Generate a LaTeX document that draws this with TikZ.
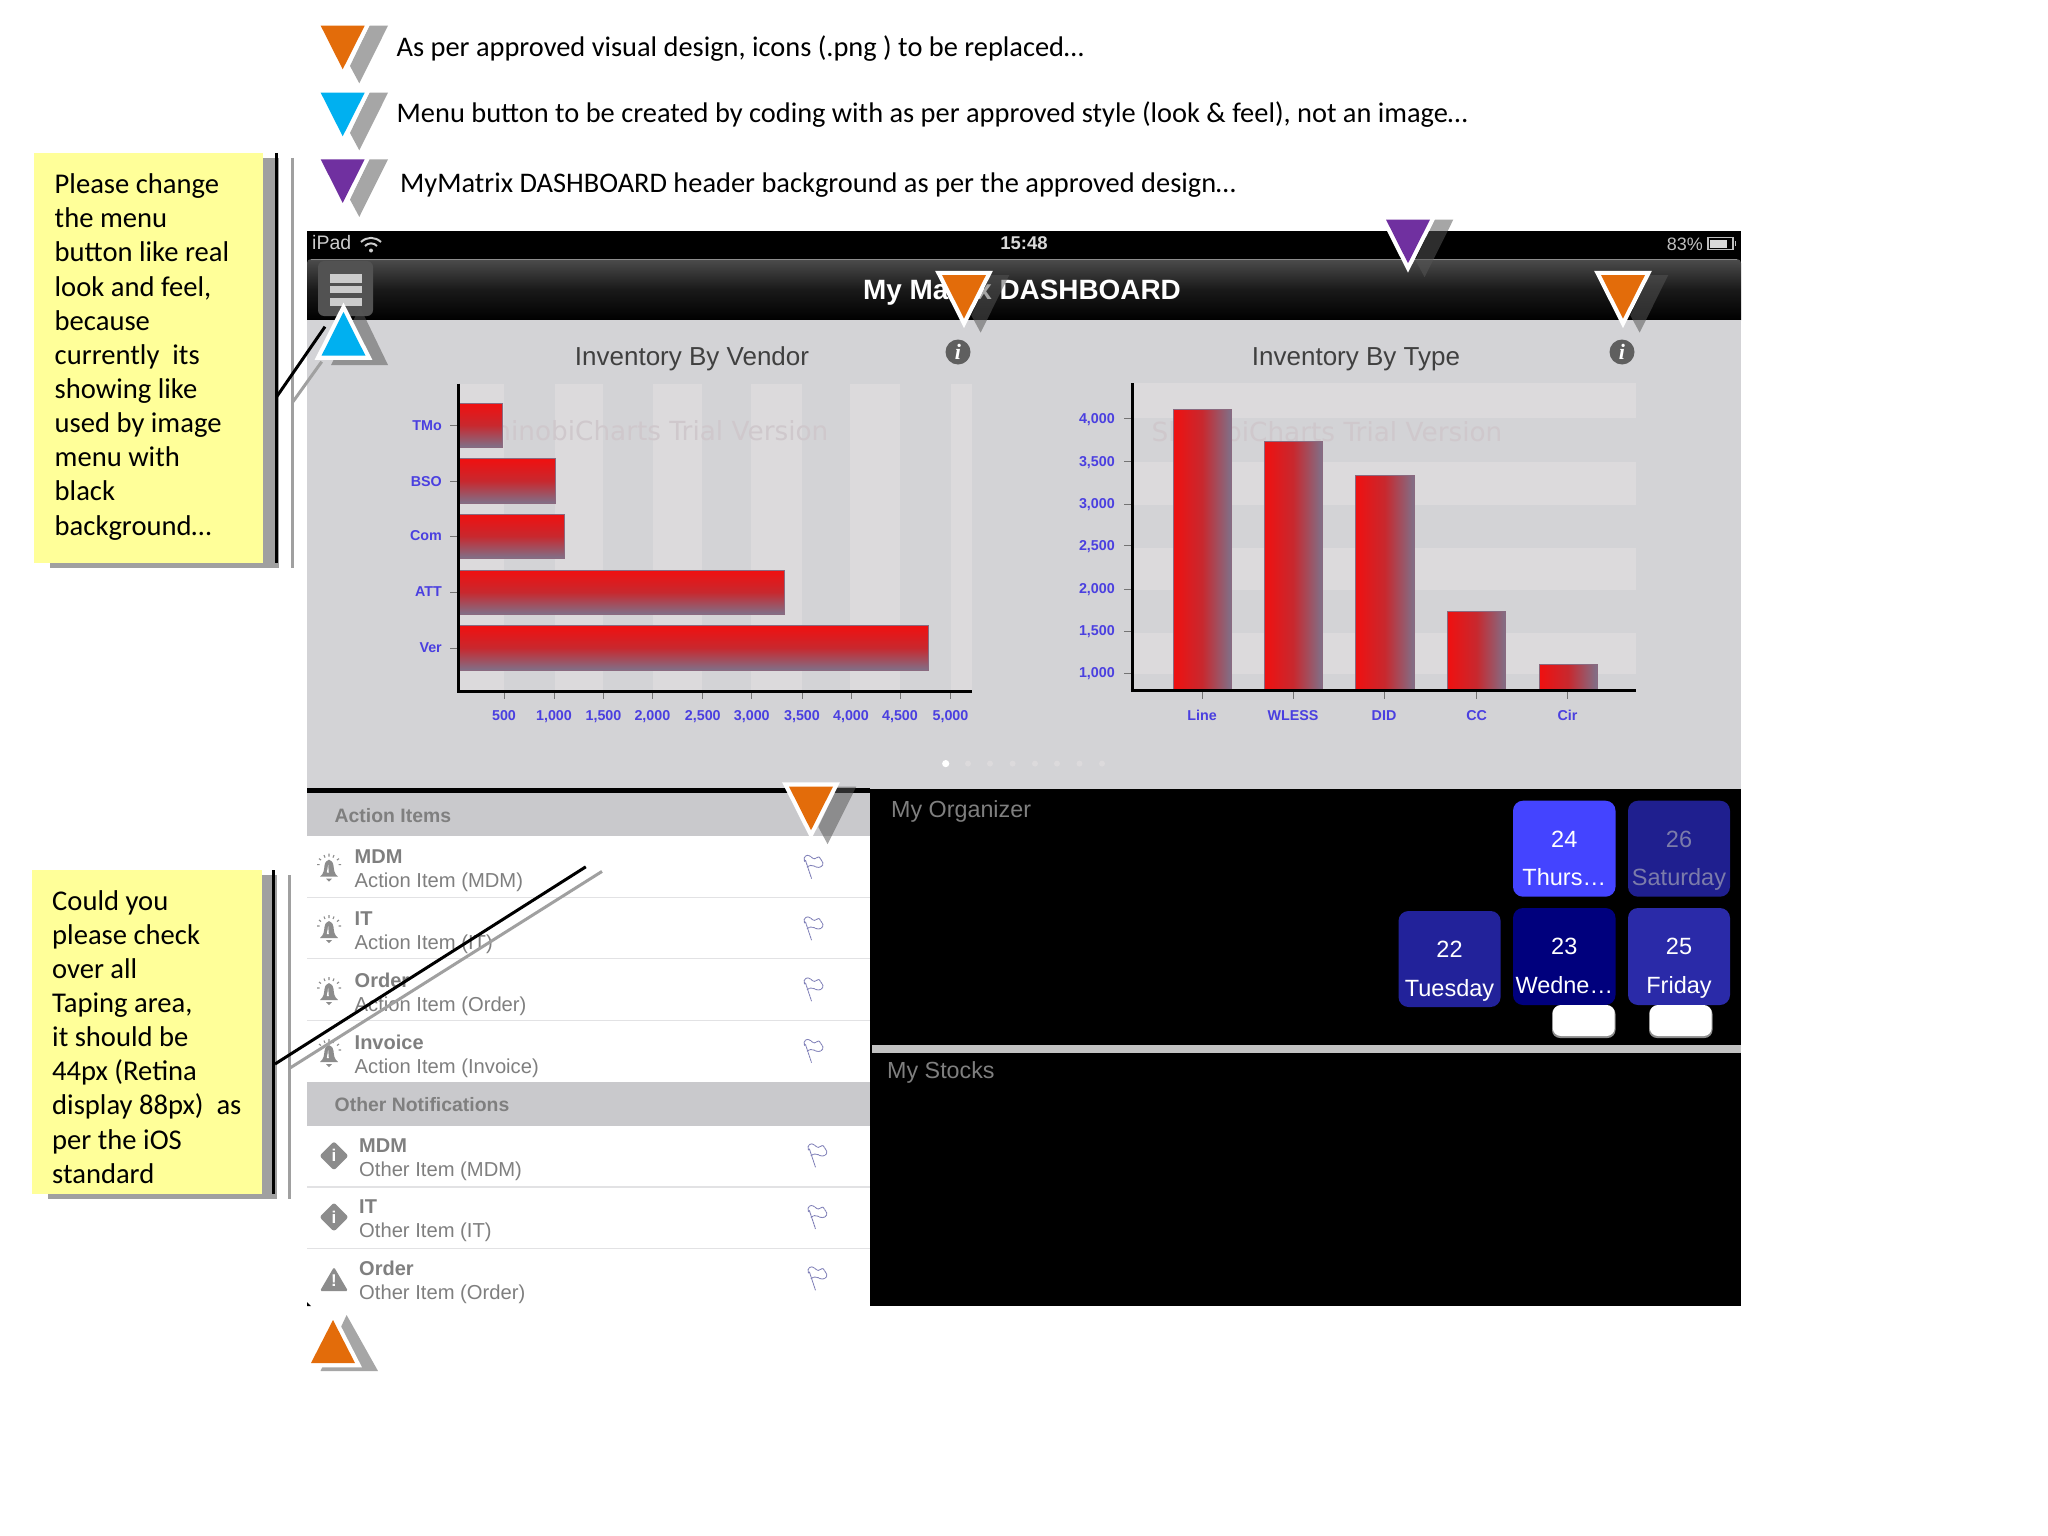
\documentclass[tikz,border=0pt]{standalone}
\usepackage{fontspec}
\setmainfont{Liberation Sans}
\newfontfamily\carl{Carlito}
\newfontfamily\dejav{DejaVu Sans}
\newfontfamily\liberif{Liberation Serif}
\newcommand{\fsz}[1]{\fontsize{#1}{#1}\selectfont}
\definecolor{cbase}{HTML}{D3D3D6}
\definecolor{cband}{HTML}{DCDADC}
\definecolor{cblue}{HTML}{4A3FE0}
\definecolor{cred}{HTML}{F01010}
\definecolor{cmid}{HTML}{C8282E}
\definecolor{cgrayb}{HTML}{807088}
\definecolor{cbarline}{HTML}{8A6A80}
\definecolor{corange}{HTML}{E36C0A}
\definecolor{csky}{HTML}{00B0F0}
\definecolor{cpurple}{HTML}{7030A0}
\definecolor{cnote}{HTML}{FFFF99}
\definecolor{cnoteshadow}{HTML}{A0A0A0}
\definecolor{cshadow}{HTML}{565656}
\definecolor{chead}{HTML}{C9C9CC}
\definecolor{ctext}{HTML}{7F7F7F}
\definecolor{csep}{HTML}{E2E2E4}
\definecolor{cicon}{HTML}{8C8C8C}
\definecolor{cflag}{HTML}{8080B8}
\definecolor{cwater}{HTML}{CFC8CC}
\definecolor{ct}{HTML}{404040}
\definecolor{cinfo}{HTML}{5F5F5F}
\tikzset{
  legendtext/.style={anchor=mid west,inner sep=0,yshift=-7pt,font=\carl\fsz{28.4},text=black},
  notetext/.style={anchor=north west,inner sep=0,align=left,font=\carl\fontsize{28.6}{34.15}\selectfont,text=black},
  notebox/.style={anchor=north west,fill=cnote,inner sep=0,minimum width=#1},
  blackline/.style={line width=3pt,black},
  grayline/.style={line width=3pt,cnoteshadow},
  charttitle/.style={inner sep=0,anchor=mid,yshift=-6.5pt,font=\fsz{26},text=ct},
  axislab/.style={inner sep=0,yshift=-2pt,font=\bfseries\fsz{14.3},text=cblue},
  axisline/.style={line width=3pt,black},
  tick/.style={line width=.9pt,black!55},
  watermark/.style={inner sep=0,anchor=mid,yshift=-6.5pt,font=\dejav\fsz{26.3},text=cwater},
  rowname/.style={inner sep=0,anchor=mid west,yshift=-5pt,font=\bfseries\fsz{20},text=ctext},
  rowsub/.style={inner sep=0,anchor=mid west,yshift=-5pt,font=\fsz{20.2},text=ctext},
  panelhead/.style={inner sep=0,anchor=mid west,yshift=-5pt,font=\fsz{23.3},text=ctext},
  tilenum/.style={inner sep=0,anchor=mid,yshift=-6pt,font=\fsz{23.5}},
  statustext/.style={inner sep=0,yshift=-3pt},
  shadowfill/.style={fill=cshadow,fill opacity=.525},
  trimark/.style={draw=white,line width=8.5pt,line join=miter},
}
\newcommand{\tridown}[3]{%
  \begin{scope}[shift={(#1,#2)}]
    \fill[shadowfill] (26.6,0) -- (45.3,0) -- (16.6,57.6) -- (7.3,40.3) -- cycle;
    \draw[trimark] (-22,0) -- (22,0) -- (0,43.6) -- cycle;
    \fill[#3] (-22,0) -- (22,0) -- (0,43.6) -- cycle;
  \end{scope}}
\newcommand{\infoicon}[3]{%
  \fill[cinfo] (#2,#3) circle[radius=12.5];
  \node[inner sep=0,text=white,font=\liberif\bfseries\itshape\fsz{22}] (#1) at (#2,#3) {i};}
\newcommand{\bellicon}[2]{%
  \begin{scope}[shift={(#1,#2)}]
    \fill[cicon] (-9,9) .. controls (-5,6) and (-5,2) .. (-4.5,-2) .. controls (-4,-6) and (-2,-7) .. (0,-8) .. controls (2,-7) and (4,-6) .. (4.5,-2) .. controls (5,2) and (5,6) .. (9,9) -- cycle;
    \fill[white] (-2.2,5) -- (-0.8,-3) -- (-0.2,5) -- cycle;
    \fill[cicon] (-3,11) -- (3,11) -- (0,14) -- cycle;
    \draw[cicon,line width=1.1pt] (0,-14) -- (0,-11) (-5,-12.5) -- (-4,-10) (5,-12.5) -- (4,-10) (-10,-9) -- (-8,-7.5) (10,-9) -- (8,-7.5) (-12,-3) -- (-9.5,-3) (12,-3) -- (9.5,-3);
  \end{scope}}
\newcommand{\flagicon}[2]{%
  \begin{scope}[shift={(#1,#2)}]
    \draw[cflag,line width=.9pt,dash pattern=on 2.2pt off .8pt,line cap=round] (-8,-6) -- (-2,12);
    \draw[cflag,line width=.9pt,dash pattern=on 2.2pt off .8pt,line cap=round] (-9,-5) .. controls (-11,-10) and (-6,-13) .. (-3,-10) .. controls (0,-7) and (2,-7) .. (4,-9) .. controls (6,-11) and (6,-8) .. (8,-6) .. controls (11,-3) and (9,1) .. (5,1) .. controls (1,1) and (0,-2) .. (-3,-1) .. controls (-5,0) and (-6,0) .. (-7,1);
  \end{scope}}
\begin{document}
\begin{tikzpicture}[x=1pt,y=-1pt]
\useasboundingbox (0,0) rectangle (2048,1536);
\fill[white] (0,0) rectangle (2048,1536);

% screen base
\fill[black] (307,231) rectangle (1741,320);
\shade[top color=black!70,bottom color=black,middle color=black!90] (307,320) -- (307,263) [rounded corners=4pt] -- (307,259) -- (1741,259) [sharp corners] -- (1741,320) -- cycle;
\draw[black!45,line width=1pt] (311,259.5) -- (1737,259.5);
\fill[cbase] (307,320) rectangle (1741,789);

% status bar
\node[statustext,anchor=mid west,font=\fsz{19.5},text=black!20] (ipad) at (312,244) {iPad};
\begin{scope}[shift={(371,246)}]
  \draw[black!20,line width=2pt] (-10,-4) .. controls (-4,-9.5) and (4,-9.5) .. (10,-4);
  \draw[black!20,line width=2pt] (-6,0) .. controls (-3,-3.5) and (3,-3.5) .. (6,0);
  \fill[black!20] (0,4.5) circle[radius=2];
\end{scope}
\node[statustext,anchor=mid,font=\bfseries\fsz{18.5},text=black!15] (clock) at (1024,244) {15:48};
\node[statustext,anchor=mid east,font=\fsz{18},text=black!25] (batt) at (1703,245) {83\%};
\draw[black!25,line width=1.3pt] (1708,237.5) rectangle (1733,249.5);
\fill[black!15] (1710,239.5) rectangle (1727,247.5);
\fill[black!25] (1734.5,241) rectangle (1736,246);

% nav bar
\fill[black!68,rounded corners=6pt] (318,261) rectangle (373,316);
\foreach \a/\b in {273.5/282.5,286/293,298/306}{\fill[black!20] (330,\a) rectangle (362,\b);}
\node[inner sep=0,anchor=mid,yshift=-7pt,font=\bfseries\fsz{27.9},text=white] (navtitle) at (1022,290) {My Matrix DASHBOARD};

% chart 1
\foreach \a/\b in {459/503.6,554.5/603,653/702,751/802,850/900,950.5/972}{\fill[cband] (\a,384) rectangle (\b,690);}
\node[charttitle] (title1) at (692,356) {Inventory By Vendor};
\infoicon{info1}{958}{352}
\node[watermark] (wm1) at (653,431) {ShinobiCharts Trial Version};
\foreach \a/\b/\r in {403/447/502,458.6/503/555.5,514/558/564.7,570/614/784,625.7/670/928.7}{
  \shade[top color=cred,bottom color=cgrayb,middle color=cmid,draw=cbarline,line width=.8pt] (459,\a) rectangle (\r,\b);}
\foreach \yy/\l in {425.7/TMo,481.4/BSO,536/Com,592/ATT,648/Ver}{
  \draw[tick] (450,\yy) -- (458,\yy);
  \node[axislab,anchor=mid east] (vl\l) at (442,\yy) {\l};}
\foreach \xx/\l [count=\i] in {504/500,554/{1,000},603.5/{1,500},652.4/{2,000},702.8/{2,500},751.8/{3,000},802/{3,500},851/{4,000},900/{4,500},950.5/{5,000}}{
  \draw[tick] (\xx,691) -- (\xx,699);
  \node[axislab,anchor=mid] (vx\i) at (\xx,716) {\l};}
\draw[axisline] (458.5,383.5) -- (458.5,692.9) (457,691.4) -- (972,691.4);

% chart 2
\foreach \a/\b in {383/418,462/505,547.5/590,632.5/673.6}{\fill[cband] (1133,\a) rectangle (1635.5,\b);}
\node[charttitle] (title2) at (1356,356) {Inventory By Type};
\infoicon{info2}{1622}{352}
\node[watermark] (wm2) at (1327,432) {ShinobiCharts Trial Version};
\foreach \a/\b/\t in {1173/1231/409,1264/1322/441.6,1355.4/1414/475,1447/1505.6/611.5,1539/1597/664.5}{
  \shade[left color=cred,right color=cgrayb,middle color=cmid,draw=cbarline,line width=.8pt] (\a,\t) rectangle (\b,690);}
\foreach \yy/\l [count=\i] in {418.4/{4,000},461.6/{3,500},504/{3,000},545.6/{2,500},589/{2,000},631/{1,500},673/{1,000}}{
  \draw[tick] (1124,\yy) -- (1132,\yy);
  \node[axislab,anchor=mid east] (ty\i) at (1115,\yy) {\l};}
\foreach \xx/\l in {1202/Line,1293/WLESS,1384/DID,1476.6/CC,1567.5/Cir}{
  \draw[tick] (\xx,692) -- (\xx,699);
  \node[axislab,anchor=mid] (tx\l) at (\xx,716) {\l};}
\draw[axisline] (1132,383) -- (1132,692.2) (1130.5,690.7) -- (1635.5,690.7);

% pager dots
\fill[white] (945.7,763.6) circle[radius=3.6];
\foreach \xx in {968,990,1012.6,1035,1057,1079.5,1102}{\fill[cband] (\xx,763.6) circle[radius=3];}

% dark panels
\fill[black] (870,789) rectangle (1741,1306);
\fill[black] (307,788.4) rectangle (870,793);
\fill[black!24] (871.5,1045) rectangle (1741,1053);
\node[panelhead] (organizer) at (891,810) {My Organizer};
\node[panelhead] (stocks) at (887,1071) {My Stocks};

% tiles
\foreach \n/\xa/\ya/\xb/\yb/\fc/\tc/\num/\ny/\lab/\ly in {
  a/1513/800.7/1615.5/896.7/4444FF/FFFFFF/24/839/Thurs…/877,
  b/1628/800.7/1730/896.7/1F1F8F/7C7CAA/26/839/Saturday/877,
  c/1398.5/911/1500.6/1007/22229A/FFFFFF/22/949/Tuesday/988,
  d/1513/908/1615.5/1005/00007D/FFFFFF/23/946/Wedne…/985,
  e/1628/908/1730/1005/2A2AA8/FFFFFF/25/946/Friday/985}{
  \definecolor{tf}{HTML}{\fc}\definecolor{tt}{HTML}{\tc}
  \fill[tf,rounded corners=10pt] (\xa,\ya) rectangle (\xb,\yb);
  \node[tilenum,text=tt] (num\n) at ({(\xa+\xb)/2},\ny) {\num};
  \node[tilenum,text=tt] (lab\n) at ({(\xa+\xb)/2},\ly) {\lab};}
\foreach \a/\b in {1552/1615.5,1649/1712.5}{
  \fill[black!45,rounded corners=8pt] (\a,1006) rectangle (\b,1038);
  \fill[white,rounded corners=8pt] (\a+.8,1005) rectangle (\b-.8,1036);}

% list
\fill[white] (307,793) rectangle (870,1306);
\fill[chead] (307,793) rectangle (870,836);
\fill[chead] (307,1082) rectangle (870,1126);
\foreach \yy in {897.4,958.7,1020.7,1187,1248.4}{\draw[csep,line width=1.5pt] (307,\yy) -- (870,\yy);}
\fill[black] (307,1302) -- (311,1306) -- (307,1306) -- cycle;
\node[rowname,font=\bfseries\fsz{19.4}] (sec1) at (334.5,815) {Action Items};
\node[rowname,font=\bfseries\fsz{19.4}] (sec2) at (334.5,1104) {Other Notifications};
\foreach \i/\xx/\ya/\na/\yb/\nb in {
  1/354.5/856/MDM/880/Action Item (MDM),
  2/354.5/917.7/IT/942/Action Item (IT),
  3/354.5/980/Order/1003.5/Action Item (Order),
  4/354.5/1041.7/Invoice/1065.4/Action Item (Invoice),
  5/359/1144.7/MDM/1169/Other Item (MDM),
  6/359/1206/IT/1230/Other Item (IT),
  7/359/1268/Order/1292/Other Item (Order)}{
  \node[rowname] (rn\i) at (\xx,\ya) {\na};
  \node[rowsub] (rs\i) at (\xx,\yb) {\nb};}
\foreach \yy in {867.6,929,991,1053}{\bellicon{329}{\yy}}
\foreach \yy [count=\i] in {1155.8,1217}{
  \fill[cicon,rounded corners=2.5pt] (334,\yy-14.5) -- (348.5,\yy) -- (334,\yy+14.5) -- (319.5,\yy) -- cycle;
  \node[inner sep=0,text=white,font=\bfseries\fsz{17}] (dia\i) at (334,\yy) {i};}
\fill[cicon,rounded corners=1.5pt] (334,1267) -- (348,1291) -- (320,1291) -- cycle;
\node[inner sep=0,text=white,font=\bfseries\fsz{17}] (warn) at (334,1281) {!};
\foreach \yy in {866.4,928,989,1050.5}{\flagicon{813.5}{\yy}}
\foreach \yy in {1155,1216.6,1278}{\flagicon{817.4}{\yy}}

% notes
\fill[cnoteshadow] (50,158) rectangle (279,567.7);
\node[notebox=229,minimum height=410] (note1) at (34,153) {};
\node[notetext] (note1t) at (54.5,173.5) {Please change\\the menu\\button like real\\look and feel,\\because\\currently\ \ its\\showing like\\used by image\\menu with\\black\\background…};
\fill[cnoteshadow] (48,875) rectangle (277,1199);
\node[notebox=230,minimum height=324] (note2) at (31.7,870) {};
\node[notetext] (note2t) at (52,890) {Could you\\please check\\over all\\Taping area,\\it should be\\44px (Retina\\display 88px)\ \ as\\per the iOS\\standard};

% leaders
\coordinate (l1a) at (276.7,396.7);
\coordinate (l1b) at (325,326.7);
\coordinate (l1c) at (293,401.7);
\coordinate (l1d) at (321.7,361.7);
\coordinate (l2a) at (275,1064);
\coordinate (l2b) at (585.8,866.8);
\coordinate (l2c) at (290,1068);
\coordinate (l2d) at (602,871.4);
\draw[grayline] (292,158) -- (292,568);
\draw[blackline] (276,153) -- (276,563);
\draw[grayline] (289.3,875) -- (289.3,1199);
\draw[blackline] (273,870) -- (273,1194);
\draw[grayline] (l1c) -- (l1d);
\draw[blackline] (l1a) -- (l1b);
\draw[grayline] (l2c) -- (l2d);
\draw[blackline] (l2a) -- (l2b);

% legend
\tridown{342.7}{25.7}{corange}
\tridown{342.7}{92.7}{csky}
\tridown{342.7}{159.3}{cpurple}
\node[legendtext] (leg1) at (396.5,47) {As per approved visual design, icons (.png ) to be replaced…};
\node[legendtext] (leg2) at (396.5,113) {Menu button to be created by coding with as per approved style (look \& feel), not an image…};
\node[legendtext] (leg3) at (400,183) {MyMatrix DASHBOARD header background as per the approved design…};

% callout marks
\tridown{964}{275}{corange}
\tridown{1623}{275}{corange}
\tridown{811}{786.6}{corange}
\begin{scope}
  \clip (1370,219) rectangle (1470,290);
  \tridown{1408}{219.6}{cpurple}
\end{scope}
\fill[shadowfill] (331,365) -- (388,365) -- (360,307) -- cycle;
\draw[trimark] (321.5,355.7) -- (365.5,355.7) -- (343.5,312) -- cycle;
\fill[csky] (321.5,355.7) -- (365.5,355.7) -- (343.5,312) -- cycle;
\fill[shadowfill] (320.5,1371) -- (378,1371) -- (346.6,1315) -- cycle;
\draw[trimark] (311,1363) -- (355,1363) -- (333,1320) -- cycle;
\fill[corange] (311,1363) -- (355,1363) -- (333,1320) -- cycle;
\end{tikzpicture}
\end{document}
